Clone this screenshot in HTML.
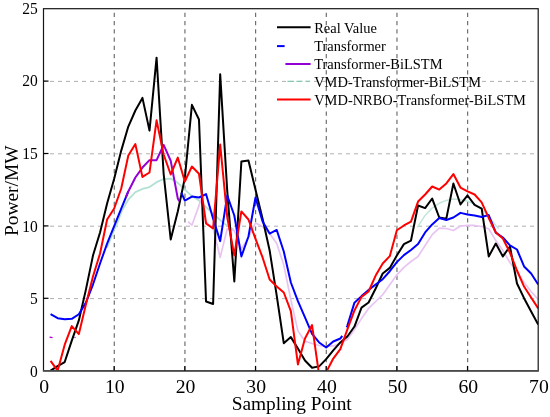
<!DOCTYPE html>
<html><head><meta charset="utf-8"><title>Power forecast</title>
<style>
html,body{margin:0;padding:0;background:#fff;}
body{width:550px;height:417px;overflow:hidden;}
svg{display:block;}
text{font-family:"Liberation Serif",serif;fill:#000;}
.tk .xt{font-size:19.7px;}
.tk .yt{font-size:16.9px;}
.lg text{font-size:14.45px;}
.ax{font-size:19.4px;}
.grid .v{stroke:#6a6a6a;stroke-width:1.15;stroke-dasharray:4.3 3.92;stroke-dashoffset:4.14;}
.grid .h{stroke:#a2a2a2;stroke-width:0.85;stroke-dasharray:4 4;stroke-dashoffset:1.5;}
.s{fill:none;stroke-linejoin:round;stroke-linecap:butt;}
</style></head><body>
<svg width="550" height="417" viewBox="0 0 550 417">
<rect width="550" height="417" fill="#fff"/>
<defs><clipPath id="c"><rect x="43.5" y="8.7" width="494.70000000000005" height="362.0"/></clipPath></defs>
<g class="grid"><line class="v" x1="114.27" y1="8.70" x2="114.27" y2="370.70"/><line class="v" x1="184.94" y1="8.70" x2="184.94" y2="370.70"/><line class="v" x1="255.61" y1="8.70" x2="255.61" y2="370.70"/><line class="v" x1="326.29" y1="8.70" x2="326.29" y2="370.70"/><line class="v" x1="396.96" y1="8.70" x2="396.96" y2="370.70"/><line class="v" x1="467.63" y1="8.70" x2="467.63" y2="370.70"/><line class="h" x1="43.50" y1="298.60" x2="538.20" y2="298.60"/><line class="h" x1="43.50" y1="226.20" x2="538.20" y2="226.20"/><line class="h" x1="43.50" y1="153.80" x2="538.20" y2="153.80"/><line class="h" x1="43.50" y1="81.40" x2="538.20" y2="81.40"/></g>
<g clip-path="url(#c)">
<polyline class="s" stroke="#b2e0d2" stroke-width="1.8" points="107.10,247.62 114.17,229.52 117.00,223.58 121.24,212.14 128.31,199.55 135.37,192.16 142.44,188.98 149.51,187.09 156.57,182.17 163.64,178.98 170.71,178.55 177.78,182.89 184.84,189.56 191.91,196.07 198.98,200.56 206.04,207.08 213.11,213.59 220.18,220.11 227.25,225.90 233.61,229.52"/>
<polyline class="s" stroke="#c2e6db" stroke-width="1.5" points="417.35,227.35 424.42,216.34 431.77,208.38 439.05,203.31 446.33,200.42 453.39,198.97 460.46,199.84 467.53,201.28 474.60,204.18 481.66,208.52 488.73,216.49 495.80,225.47 498.62,228.51"/>
<polyline class="s" stroke="#e8c4f2" stroke-width="1.7" points="188.02,221.56 191.91,225.18 198.98,205.63 201.10,198.39 206.04,221.56 213.11,228.07 220.18,257.47 227.25,228.80 234.31,230.53 241.38,249.07 248.45,237.48 255.51,223.00 262.58,226.48 269.65,233.57 276.72,243.57 283.78,265.00 290.85,299.75 297.92,330.88 304.98,341.16 312.05,343.48 319.12,345.50 326.19,346.52 333.25,345.94 340.32,343.48 347.39,339.57 354.45,329.43 361.52,318.57 368.59,308.44 375.66,301.49 382.72,294.68 389.79,284.83 396.86,274.84 403.92,267.46 410.99,261.52 418.06,256.45 425.13,245.45 432.19,234.59 439.26,228.07 446.33,228.51 453.39,230.53 460.46,226.04 467.53,225.47 474.60,225.47 481.66,226.48 488.73,228.80 495.80,240.52 502.86,250.52 509.93,262.53 517.00,272.24 524.07,282.52 531.13,291.49 538.20,299.46"/>
<line x1="49.57" y1="337.11" x2="52.57" y2="337.69" stroke="#b000d0" stroke-width="1.2"/>
<line x1="72.48" y1="337.40" x2="76.01" y2="337.40" stroke="#c060e0" stroke-width="1"/>
<polyline class="s" stroke="#000000" stroke-width="2.0" points="50.57,370.70 57.63,366.07 64.70,362.01 71.77,340.58 78.84,320.45 85.90,289.61 92.97,255.58 100.04,232.42 107.10,203.46 114.17,178.84 121.24,150.60 128.31,126.57 135.37,110.49 142.44,97.90 149.51,130.62 156.57,57.64 163.64,173.77 170.71,239.51 177.78,211.42 184.84,178.12 191.91,104.85 198.98,119.47 206.04,301.49 213.11,303.95 220.18,74.15 227.25,191.15 234.31,281.50 241.38,161.46 248.45,160.45 255.51,189.70 262.58,218.66 269.65,250.52 276.72,295.55 283.78,343.19 290.85,337.11 297.92,348.55 304.98,360.56 312.05,367.80 319.12,366.36 326.19,359.12 333.25,350.43 340.32,342.46 347.39,336.53 354.45,326.54 361.52,307.57 368.59,302.50 375.66,288.45 382.72,273.54 389.79,267.89 396.86,255.44 403.92,244.14 410.99,240.52 418.06,205.48 425.13,208.09 432.19,198.53 439.26,217.50 446.33,218.66 453.39,183.47 460.46,204.47 467.53,195.49 474.60,204.90 481.66,208.52 488.73,256.45 495.80,243.57 502.86,256.45 509.93,246.46 517.00,283.53 524.07,298.16 531.13,311.48 538.20,324.51"/>
<polyline class="s" stroke="#0000ff" stroke-width="2" points="50.57,314.23 57.63,318.14 64.70,319.30 71.77,318.86 78.84,314.23 85.90,302.64 92.97,284.54 100.04,263.55 107.10,243.57 114.17,226.04 121.24,208.52 128.31,191.44"/>
<polyline class="s" stroke="#0000ff" stroke-width="2" points="181.31,192.60 184.84,200.56 191.91,196.51 198.98,197.52 206.04,194.04 213.11,218.66 220.18,241.10 227.25,195.49 234.31,215.47 241.38,256.45 248.45,236.47 255.51,197.52 262.58,221.56 269.65,233.57 276.72,229.95 283.78,251.53 290.85,282.52 297.92,301.20 304.98,317.41 312.05,333.78 319.12,342.46 326.19,347.53 333.25,341.45 340.32,338.55 342.23,335.95"/>
<polyline class="s" stroke="#0000ff" stroke-width="2" points="346.68,327.26 347.39,325.52 354.45,302.64 361.52,296.13 368.59,290.05 375.66,284.54 382.72,279.19 389.79,271.22 396.86,262.10 403.92,255.15 410.99,249.94 418.06,244.00 425.13,232.42 432.19,224.45 439.26,218.08 446.33,219.96 453.39,217.50 460.46,212.87 467.53,214.46 474.60,215.47 481.66,217.07 488.73,215.04 495.80,232.56 502.86,237.48 509.93,245.45 517.00,249.50 524.07,266.44 531.13,273.54 538.20,284.54"/>
<polyline class="s" stroke="#9400d3" stroke-width="2" points="125.83,197.37 128.31,191.44 135.37,177.54 142.44,167.55 149.51,160.16 156.57,160.16 163.64,144.96 170.71,160.74 177.78,198.39 179.19,201.28"/>
<polyline class="s" stroke="#ff0000" stroke-width="2" points="50.57,360.85 57.63,370.70 64.70,344.64 71.77,326.10 78.84,334.07 85.90,304.53 92.97,276.58 100.04,253.56 107.10,219.53 114.17,208.52 121.24,188.54 128.31,155.53 135.37,144.09 142.44,176.96 149.51,172.47 156.57,120.34 163.64,154.51 170.71,174.50 177.78,157.55 184.84,181.45 191.91,166.53 198.98,173.77 206.04,223.44 213.11,228.51 220.18,144.52 227.25,217.21 234.31,255.44 241.38,211.42 248.45,219.53 255.51,238.93 262.58,257.47 269.65,279.48 276.72,286.57 283.78,292.51 290.85,311.04 297.92,364.47 304.98,338.55 312.05,325.09 319.12,375.04 326.19,372.15 333.25,358.54 340.32,349.12 347.39,329.43 354.45,310.46 361.52,296.85 368.59,291.49 375.66,275.57 382.72,263.55 389.79,256.16 396.86,230.24 403.92,225.47 410.99,221.56 418.06,201.57 425.13,194.48 432.19,186.51 439.26,189.56 446.33,183.47 453.39,174.06 460.46,187.53 467.53,191.44 474.60,194.48 481.66,202.44 488.73,217.94 495.80,232.56 502.86,238.50 509.93,252.54 517.00,270.50 524.07,286.57 531.13,297.43 538.20,308.44"/>
</g>
<rect x="43.5" y="8.7" width="494.70000000000005" height="362.0" fill="none" stroke="#161616" stroke-width="1.2"/>
<line x1="42.9" y1="370.84999999999997" x2="538.8000000000001" y2="370.84999999999997" stroke="#4a4a4a" stroke-width="1.7"/>
<g stroke="#000" stroke-width="1.2"><line x1="43.50" y1="298.30" x2="48.50" y2="298.30"/><line x1="43.50" y1="225.90" x2="48.50" y2="225.90"/><line x1="43.50" y1="153.50" x2="48.50" y2="153.50"/><line x1="43.50" y1="81.10" x2="48.50" y2="81.10"/><line x1="114.17" y1="370.70" x2="114.17" y2="365.90"/><line x1="184.84" y1="370.70" x2="184.84" y2="365.90"/><line x1="255.51" y1="370.70" x2="255.51" y2="365.90"/><line x1="326.19" y1="370.70" x2="326.19" y2="365.90"/><line x1="396.86" y1="370.70" x2="396.86" y2="365.90"/><line x1="467.53" y1="370.70" x2="467.53" y2="365.90"/></g>
<g class="tk"><text class="xt" x="44.20" y="392.5" text-anchor="middle">0</text><text class="xt" x="114.87" y="392.5" text-anchor="middle">10</text><text class="xt" x="185.54" y="392.5" text-anchor="middle">20</text><text class="xt" x="256.21" y="392.5" text-anchor="middle">30</text><text class="xt" x="326.89" y="392.5" text-anchor="middle">40</text><text class="xt" x="397.56" y="392.5" text-anchor="middle">50</text><text class="xt" x="468.23" y="392.5" text-anchor="middle">60</text><text class="xt" x="538.90" y="392.5" text-anchor="middle">70</text><text class="yt" transform="translate(37.7,376.90) scale(0.92,1)" text-anchor="end">0</text><text class="yt" transform="translate(37.7,304.28) scale(0.92,1)" text-anchor="end">5</text><text class="yt" transform="translate(37.7,231.66) scale(0.92,1)" text-anchor="end">10</text><text class="yt" transform="translate(37.7,159.04) scale(0.92,1)" text-anchor="end">15</text><text class="yt" transform="translate(37.7,86.42) scale(0.92,1)" text-anchor="end">20</text><text class="yt" transform="translate(37.7,13.80) scale(0.92,1)" text-anchor="end">25</text></g>
<text class="ax" x="291.7" y="410.2" text-anchor="middle">Sampling Point</text>
<text class="ax" transform="translate(17.8,190.8) rotate(-90)" text-anchor="middle">Power/MW</text>
<g class="lg">
<line x1="277" y1="27.3" x2="310.6" y2="27.3" stroke="#000" stroke-width="2"/>
<line x1="277" y1="46.1" x2="284.6" y2="46.1" stroke="#0000ff" stroke-width="2"/>
<line x1="285.4" y1="64" x2="310.6" y2="64" stroke="#9400d3" stroke-width="2"/>
<line x1="287.4" y1="81.4" x2="310" y2="81.4" stroke="#86c7ae" stroke-width="1.1" stroke-dasharray="6 3"/>
<line x1="277" y1="99.6" x2="310.6" y2="99.6" stroke="#ff0000" stroke-width="2"/>
<text x="314.2" y="32.6">Real Value</text>
<text x="314.2" y="50.6">Transformer</text>
<text x="314.2" y="68.5">Transformer-BiLSTM</text>
<text x="314.2" y="86.5">VMD-Transformer-BiLSTM</text>
<text x="314.2" y="104.5">VMD-NRBO-Transformer-BiLSTM</text>
</g>
</svg>
</body></html>
